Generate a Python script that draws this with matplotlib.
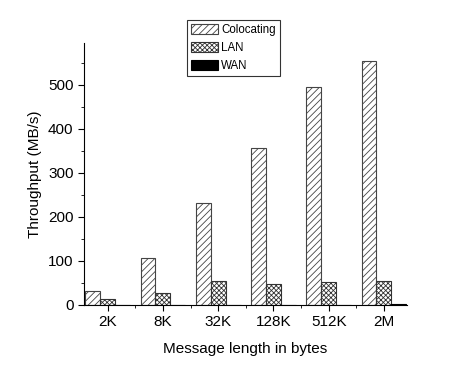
import matplotlib
matplotlib.use("Agg")
import matplotlib.pyplot as plt
import numpy as np
from matplotlib.ticker import MultipleLocator, FixedLocator

plt.rcParams['font.family'] = ['Liberation Sans', 'DejaVu Sans']
plt.rcParams['hatch.linewidth'] = 0.6

categories = ["2K", "8K", "32K", "128K", "512K", "2M"]
colocating = [32, 106, 232, 357, 495, 553]
lan = [14, 27, 55, 48, 53, 54]
wan = [0.3, 0.4, 0.5, 0.6, 0.8, 1.5]

fig = plt.figure(figsize=(4.74, 3.66), dpi=100)
ax = fig.add_axes([0.177, 0.1667, 0.682, 0.716])

x = np.arange(len(categories))
w = 0.27
b1 = ax.bar(x - w, colocating, w, facecolor='white', edgecolor='#444444', hatch='/////', linewidth=0.8, label='Colocating')
b2 = ax.bar(x, lan, w, facecolor='white', edgecolor='#333333', hatch='xxxxxxx', linewidth=0.8, label='LAN')
b3 = ax.bar(x + w, wan, w, facecolor='black', edgecolor='black', linewidth=0.8, label='WAN')

ax.set_xlim(-0.43, 5.42)
ax.set_ylim(0, 595)
ax.set_xticks(x)
ax.set_xticklabels(categories)
ax.xaxis.set_minor_locator(FixedLocator(x[:-1] + 0.5))
ax.yaxis.set_major_locator(MultipleLocator(100))
ax.yaxis.set_minor_locator(MultipleLocator(50))
ax.spines['top'].set_visible(False)
ax.spines['right'].set_visible(False)
ax.tick_params(axis='both', which='major', direction='out', length=4, labelsize=11)
ax.tick_params(axis='both', which='minor', direction='out', length=2.5)
ax.set_xlabel("Message length in bytes", fontsize=11, labelpad=9)
ax.set_ylabel("Throughput (MB/s)", fontsize=11, labelpad=4)

leg = fig.legend(handles=[b1, b2, b3], loc='upper left', bbox_to_anchor=(187/474, 1 - 20/366),
                 fontsize=8.3, frameon=True, fancybox=False, edgecolor='black',
                 borderpad=0.35, labelspacing=0.5, handlelength=2.3, handleheight=0.95,
                 handletextpad=0.3, borderaxespad=0)
leg.get_frame().set_linewidth(0.8)

fig.savefig("out.png", dpi=100)
